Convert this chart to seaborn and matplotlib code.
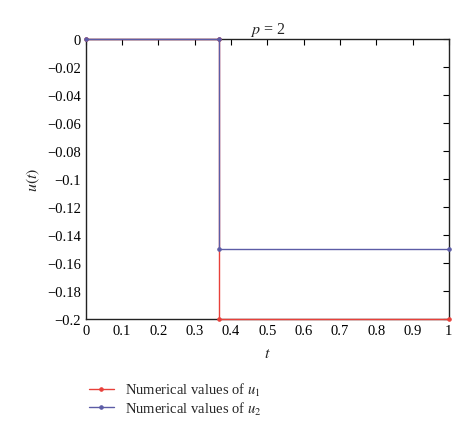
import matplotlib
matplotlib.use("Agg")
import matplotlib.pyplot as plt
import matplotlib.ticker as mticker
import seaborn as sns
import pandas as pd
import numpy as np

# switching time and levels
t = [0.0, 0.367, 0.367, 1.0]
u1 = [0.0, 0.0, -0.2, -0.2]
u2 = [0.0, 0.0, -0.15, -0.15]
xticks = np.round(np.arange(0, 1.01, 0.1), 1)
yticks = np.round(np.arange(-0.2, 0.001, 0.02), 2)

sns.set_style("white")
plt.rcParams['font.family'] = ['Liberation Serif', 'DejaVu Serif']
plt.rcParams['mathtext.fontset'] = 'stix'

fig = plt.figure(figsize=(4.74, 4.35), dpi=100)
ax = fig.add_axes([0.181, 0.264, 0.766, 0.644])

df1 = pd.DataFrame({'t': t, 'u': u1})
df2 = pd.DataFrame({'t': t, 'u': u2})
sns.lineplot(data=df1, x='t', y='u', sort=False, estimator=None, errorbar=None,
             ax=ax, color='#e8403a', lw=1.0, marker='o', ms=2.5, mec='#e8403a',
             label='Numerical values of $u_1$', clip_on=False, zorder=3)
sns.lineplot(data=df2, x='t', y='u', sort=False, estimator=None, errorbar=None,
             ax=ax, color='#5c5ca6', lw=1.0, marker='o', ms=2.5, mec='#5c5ca6',
             label='Numerical values of $u_2$', clip_on=False, zorder=4)

ax.set_xlim(0, 1)
ax.set_ylim(-0.2, 0)
ax.set_xticks(xticks)
ax.set_yticks(yticks)
fmt = mticker.FuncFormatter(lambda v, p: '{:g}'.format(round(v, 2) + 0.0).replace('-', '\u2212'))
ax.xaxis.set_major_formatter(fmt)
ax.yaxis.set_major_formatter(fmt)
ax.tick_params(direction='in', top=True, right=True, length=4, width=0.8,
               labelsize=10.5, colors='black')
for s in ax.spines.values():
    s.set_color('#222222')
    s.set_linewidth(1.0)

ax.set_xlabel('$t$', fontsize=11.5, labelpad=6)
ax.set_ylabel('$u(t)$', fontsize=11.5, labelpad=4)
ax.set_title('$p$ = 2', fontsize=11.5, pad=4)

h, l = ax.get_legend_handles_labels()
ax.get_legend().remove()
fig.legend(h, l, loc='upper left', bbox_to_anchor=(0.16, 0.152), frameon=False,
           fontsize=10.5, handlelength=1.7, labelspacing=0.1, handletextpad=0.8)

fig.savefig('out.png', dpi=100)
